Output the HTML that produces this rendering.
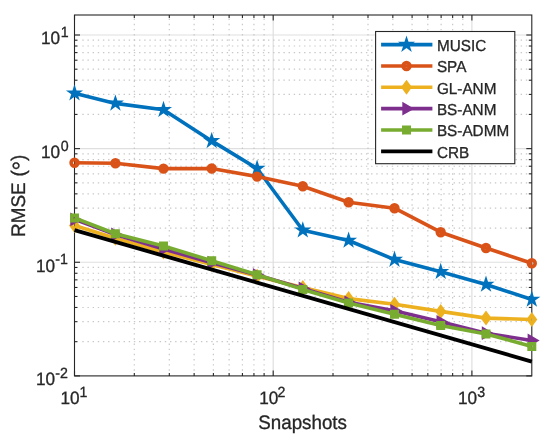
<!DOCTYPE html>
<html><head><meta charset="utf-8"><title>RMSE vs Snapshots</title>
<style>html,body{margin:0;padding:0;background:#fff}body{width:550px;height:438px;overflow:hidden}svg{display:block}text{font-family:"Liberation Sans",sans-serif;fill:#262626;stroke:#262626;stroke-width:0.3px;text-rendering:geometricPrecision}</style></head><body>
<svg width="550" height="438" viewBox="0 0 550 438">
<rect width="550" height="438" fill="#fff"/>
<g stroke="#dfdfdf" stroke-width="1.2" fill="none">
<line x1="273.20" y1="15.00" x2="273.20" y2="375.90"/>
<line x1="471.90" y1="15.00" x2="471.90" y2="375.90"/>
<line x1="74.50" y1="35.00" x2="531.80" y2="35.00"/>
<line x1="74.50" y1="148.63" x2="531.80" y2="148.63"/>
<line x1="74.50" y1="262.26" x2="531.80" y2="262.26"/>
</g>
<g stroke="#c8c8c8" stroke-width="1.2" stroke-dasharray="1.4 3.757" fill="none">
<line x1="134.31" y1="370.70" x2="134.31" y2="15.00"/>
<line x1="169.30" y1="370.70" x2="169.30" y2="15.00"/>
<line x1="194.13" y1="370.70" x2="194.13" y2="15.00"/>
<line x1="213.39" y1="370.70" x2="213.39" y2="15.00"/>
<line x1="229.12" y1="370.70" x2="229.12" y2="15.00"/>
<line x1="242.42" y1="370.70" x2="242.42" y2="15.00"/>
<line x1="253.94" y1="370.70" x2="253.94" y2="15.00"/>
<line x1="264.11" y1="370.70" x2="264.11" y2="15.00"/>
<line x1="333.01" y1="370.70" x2="333.01" y2="15.00"/>
<line x1="368.00" y1="370.70" x2="368.00" y2="15.00"/>
<line x1="392.83" y1="370.70" x2="392.83" y2="15.00"/>
<line x1="412.09" y1="370.70" x2="412.09" y2="15.00"/>
<line x1="427.82" y1="370.70" x2="427.82" y2="15.00"/>
<line x1="441.12" y1="370.70" x2="441.12" y2="15.00"/>
<line x1="452.64" y1="370.70" x2="452.64" y2="15.00"/>
<line x1="462.81" y1="370.70" x2="462.81" y2="15.00"/>
<line x1="82.30" y1="341.68" x2="531.80" y2="341.68"/>
<line x1="82.30" y1="321.67" x2="531.80" y2="321.67"/>
<line x1="82.30" y1="307.48" x2="531.80" y2="307.48"/>
<line x1="82.30" y1="296.47" x2="531.80" y2="296.47"/>
<line x1="82.30" y1="287.47" x2="531.80" y2="287.47"/>
<line x1="82.30" y1="279.86" x2="531.80" y2="279.86"/>
<line x1="82.30" y1="273.27" x2="531.80" y2="273.27"/>
<line x1="82.30" y1="267.46" x2="531.80" y2="267.46"/>
<line x1="82.30" y1="228.05" x2="531.80" y2="228.05"/>
<line x1="82.30" y1="208.04" x2="531.80" y2="208.04"/>
<line x1="82.30" y1="193.85" x2="531.80" y2="193.85"/>
<line x1="82.30" y1="182.84" x2="531.80" y2="182.84"/>
<line x1="82.30" y1="173.84" x2="531.80" y2="173.84"/>
<line x1="82.30" y1="166.23" x2="531.80" y2="166.23"/>
<line x1="82.30" y1="159.64" x2="531.80" y2="159.64"/>
<line x1="82.30" y1="153.83" x2="531.80" y2="153.83"/>
<line x1="82.30" y1="114.42" x2="531.80" y2="114.42"/>
<line x1="82.30" y1="94.41" x2="531.80" y2="94.41"/>
<line x1="82.30" y1="80.22" x2="531.80" y2="80.22"/>
<line x1="82.30" y1="69.21" x2="531.80" y2="69.21"/>
<line x1="82.30" y1="60.21" x2="531.80" y2="60.21"/>
<line x1="82.30" y1="52.60" x2="531.80" y2="52.60"/>
<line x1="82.30" y1="46.01" x2="531.80" y2="46.01"/>
<line x1="82.30" y1="40.20" x2="531.80" y2="40.20"/>
</g>
<g stroke="#262626" stroke-width="1.1" fill="none">
<rect x="74.50" y="15.00" width="457.30" height="360.90"/>
<line x1="74.50" y1="375.90" x2="74.50" y2="370.40"/>
<line x1="74.50" y1="15.00" x2="74.50" y2="20.50"/>
<line x1="273.20" y1="375.90" x2="273.20" y2="370.40"/>
<line x1="273.20" y1="15.00" x2="273.20" y2="20.50"/>
<line x1="471.90" y1="375.90" x2="471.90" y2="370.40"/>
<line x1="471.90" y1="15.00" x2="471.90" y2="20.50"/>
<line x1="134.31" y1="375.90" x2="134.31" y2="372.90"/>
<line x1="134.31" y1="15.00" x2="134.31" y2="18.00"/>
<line x1="169.30" y1="375.90" x2="169.30" y2="372.90"/>
<line x1="169.30" y1="15.00" x2="169.30" y2="18.00"/>
<line x1="194.13" y1="375.90" x2="194.13" y2="372.90"/>
<line x1="194.13" y1="15.00" x2="194.13" y2="18.00"/>
<line x1="213.39" y1="375.90" x2="213.39" y2="372.90"/>
<line x1="213.39" y1="15.00" x2="213.39" y2="18.00"/>
<line x1="229.12" y1="375.90" x2="229.12" y2="372.90"/>
<line x1="229.12" y1="15.00" x2="229.12" y2="18.00"/>
<line x1="242.42" y1="375.90" x2="242.42" y2="372.90"/>
<line x1="242.42" y1="15.00" x2="242.42" y2="18.00"/>
<line x1="253.94" y1="375.90" x2="253.94" y2="372.90"/>
<line x1="253.94" y1="15.00" x2="253.94" y2="18.00"/>
<line x1="264.11" y1="375.90" x2="264.11" y2="372.90"/>
<line x1="264.11" y1="15.00" x2="264.11" y2="18.00"/>
<line x1="333.01" y1="375.90" x2="333.01" y2="372.90"/>
<line x1="333.01" y1="15.00" x2="333.01" y2="18.00"/>
<line x1="368.00" y1="375.90" x2="368.00" y2="372.90"/>
<line x1="368.00" y1="15.00" x2="368.00" y2="18.00"/>
<line x1="392.83" y1="375.90" x2="392.83" y2="372.90"/>
<line x1="392.83" y1="15.00" x2="392.83" y2="18.00"/>
<line x1="412.09" y1="375.90" x2="412.09" y2="372.90"/>
<line x1="412.09" y1="15.00" x2="412.09" y2="18.00"/>
<line x1="427.82" y1="375.90" x2="427.82" y2="372.90"/>
<line x1="427.82" y1="15.00" x2="427.82" y2="18.00"/>
<line x1="441.12" y1="375.90" x2="441.12" y2="372.90"/>
<line x1="441.12" y1="15.00" x2="441.12" y2="18.00"/>
<line x1="452.64" y1="375.90" x2="452.64" y2="372.90"/>
<line x1="452.64" y1="15.00" x2="452.64" y2="18.00"/>
<line x1="462.81" y1="375.90" x2="462.81" y2="372.90"/>
<line x1="462.81" y1="15.00" x2="462.81" y2="18.00"/>
<line x1="74.50" y1="35.00" x2="80.00" y2="35.00"/>
<line x1="531.80" y1="35.00" x2="526.30" y2="35.00"/>
<line x1="74.50" y1="148.63" x2="80.00" y2="148.63"/>
<line x1="531.80" y1="148.63" x2="526.30" y2="148.63"/>
<line x1="74.50" y1="262.26" x2="80.00" y2="262.26"/>
<line x1="531.80" y1="262.26" x2="526.30" y2="262.26"/>
<line x1="74.50" y1="375.89" x2="80.00" y2="375.89"/>
<line x1="531.80" y1="375.89" x2="526.30" y2="375.89"/>
<line x1="74.50" y1="341.68" x2="77.50" y2="341.68"/>
<line x1="531.80" y1="341.68" x2="528.80" y2="341.68"/>
<line x1="74.50" y1="321.67" x2="77.50" y2="321.67"/>
<line x1="531.80" y1="321.67" x2="528.80" y2="321.67"/>
<line x1="74.50" y1="307.48" x2="77.50" y2="307.48"/>
<line x1="531.80" y1="307.48" x2="528.80" y2="307.48"/>
<line x1="74.50" y1="296.47" x2="77.50" y2="296.47"/>
<line x1="531.80" y1="296.47" x2="528.80" y2="296.47"/>
<line x1="74.50" y1="287.47" x2="77.50" y2="287.47"/>
<line x1="531.80" y1="287.47" x2="528.80" y2="287.47"/>
<line x1="74.50" y1="279.86" x2="77.50" y2="279.86"/>
<line x1="531.80" y1="279.86" x2="528.80" y2="279.86"/>
<line x1="74.50" y1="273.27" x2="77.50" y2="273.27"/>
<line x1="531.80" y1="273.27" x2="528.80" y2="273.27"/>
<line x1="74.50" y1="267.46" x2="77.50" y2="267.46"/>
<line x1="531.80" y1="267.46" x2="528.80" y2="267.46"/>
<line x1="74.50" y1="228.05" x2="77.50" y2="228.05"/>
<line x1="531.80" y1="228.05" x2="528.80" y2="228.05"/>
<line x1="74.50" y1="208.04" x2="77.50" y2="208.04"/>
<line x1="531.80" y1="208.04" x2="528.80" y2="208.04"/>
<line x1="74.50" y1="193.85" x2="77.50" y2="193.85"/>
<line x1="531.80" y1="193.85" x2="528.80" y2="193.85"/>
<line x1="74.50" y1="182.84" x2="77.50" y2="182.84"/>
<line x1="531.80" y1="182.84" x2="528.80" y2="182.84"/>
<line x1="74.50" y1="173.84" x2="77.50" y2="173.84"/>
<line x1="531.80" y1="173.84" x2="528.80" y2="173.84"/>
<line x1="74.50" y1="166.23" x2="77.50" y2="166.23"/>
<line x1="531.80" y1="166.23" x2="528.80" y2="166.23"/>
<line x1="74.50" y1="159.64" x2="77.50" y2="159.64"/>
<line x1="531.80" y1="159.64" x2="528.80" y2="159.64"/>
<line x1="74.50" y1="153.83" x2="77.50" y2="153.83"/>
<line x1="531.80" y1="153.83" x2="528.80" y2="153.83"/>
<line x1="74.50" y1="114.42" x2="77.50" y2="114.42"/>
<line x1="531.80" y1="114.42" x2="528.80" y2="114.42"/>
<line x1="74.50" y1="94.41" x2="77.50" y2="94.41"/>
<line x1="531.80" y1="94.41" x2="528.80" y2="94.41"/>
<line x1="74.50" y1="80.22" x2="77.50" y2="80.22"/>
<line x1="531.80" y1="80.22" x2="528.80" y2="80.22"/>
<line x1="74.50" y1="69.21" x2="77.50" y2="69.21"/>
<line x1="531.80" y1="69.21" x2="528.80" y2="69.21"/>
<line x1="74.50" y1="60.21" x2="77.50" y2="60.21"/>
<line x1="531.80" y1="60.21" x2="528.80" y2="60.21"/>
<line x1="74.50" y1="52.60" x2="77.50" y2="52.60"/>
<line x1="531.80" y1="52.60" x2="528.80" y2="52.60"/>
<line x1="74.50" y1="46.01" x2="77.50" y2="46.01"/>
<line x1="531.80" y1="46.01" x2="528.80" y2="46.01"/>
<line x1="74.50" y1="40.20" x2="77.50" y2="40.20"/>
<line x1="531.80" y1="40.20" x2="528.80" y2="40.20"/>
</g>
<polyline points="74.50,93.20 115.40,103.40 163.50,109.80 211.70,140.90 257.10,168.50 302.80,230.30 348.60,240.50 394.50,259.60 440.70,271.80 486.00,284.50 531.80,299.50" fill="none" stroke="#0072BD" stroke-width="3.60" stroke-linejoin="round"/>
<g fill="#0072BD" stroke="none">
<polygon points="74.50,84.20 76.52,90.42 83.06,90.42 77.77,94.26 79.79,100.48 74.50,96.64 69.21,100.48 71.23,94.26 65.94,90.42 72.48,90.42"/>
<polygon points="115.40,94.40 117.42,100.62 123.96,100.62 118.67,104.46 120.69,110.68 115.40,106.84 110.11,110.68 112.13,104.46 106.84,100.62 113.38,100.62"/>
<polygon points="163.50,100.80 165.52,107.02 172.06,107.02 166.77,110.86 168.79,117.08 163.50,113.24 158.21,117.08 160.23,110.86 154.94,107.02 161.48,107.02"/>
<polygon points="211.70,131.90 213.72,138.12 220.26,138.12 214.97,141.96 216.99,148.18 211.70,144.34 206.41,148.18 208.43,141.96 203.14,138.12 209.68,138.12"/>
<polygon points="257.10,159.50 259.12,165.72 265.66,165.72 260.37,169.56 262.39,175.78 257.10,171.94 251.81,175.78 253.83,169.56 248.54,165.72 255.08,165.72"/>
<polygon points="302.80,221.30 304.82,227.52 311.36,227.52 306.07,231.36 308.09,237.58 302.80,233.74 297.51,237.58 299.53,231.36 294.24,227.52 300.78,227.52"/>
<polygon points="348.60,231.50 350.62,237.72 357.16,237.72 351.87,241.56 353.89,247.78 348.60,243.94 343.31,247.78 345.33,241.56 340.04,237.72 346.58,237.72"/>
<polygon points="394.50,250.60 396.52,256.82 403.06,256.82 397.77,260.66 399.79,266.88 394.50,263.04 389.21,266.88 391.23,260.66 385.94,256.82 392.48,256.82"/>
<polygon points="440.70,262.80 442.72,269.02 449.26,269.02 443.97,272.86 445.99,279.08 440.70,275.24 435.41,279.08 437.43,272.86 432.14,269.02 438.68,269.02"/>
<polygon points="486.00,275.50 488.02,281.72 494.56,281.72 489.27,285.56 491.29,291.78 486.00,287.94 480.71,291.78 482.73,285.56 477.44,281.72 483.98,281.72"/>
<polygon points="531.80,290.50 533.82,296.72 540.36,296.72 535.07,300.56 537.09,306.78 531.80,302.94 526.51,306.78 528.53,300.56 523.24,296.72 529.78,296.72"/>
</g>
<polyline points="74.50,162.70 115.40,163.20 163.50,168.60 211.70,168.50 257.10,176.60 302.80,186.30 348.60,202.20 394.50,208.20 440.70,232.20 486.00,248.00 531.80,263.30" fill="none" stroke="#D95319" stroke-width="3.60" stroke-linejoin="round"/>
<g fill="#D95319" stroke="none">
<path fill-rule="evenodd" d="M69.30,162.70 a5.20,5.20 0 1,0 10.40,0 a5.20,5.20 0 1,0 -10.40,0z M73.00,162.70 a1.50,1.50 0 1,0 3.00,0 a1.50,1.50 0 1,0 -3.00,0z"/>
<path fill-rule="evenodd" d="M110.20,163.20 a5.20,5.20 0 1,0 10.40,0 a5.20,5.20 0 1,0 -10.40,0z M113.90,163.20 a1.50,1.50 0 1,0 3.00,0 a1.50,1.50 0 1,0 -3.00,0z"/>
<path fill-rule="evenodd" d="M158.30,168.60 a5.20,5.20 0 1,0 10.40,0 a5.20,5.20 0 1,0 -10.40,0z M162.00,168.60 a1.50,1.50 0 1,0 3.00,0 a1.50,1.50 0 1,0 -3.00,0z"/>
<path fill-rule="evenodd" d="M206.50,168.50 a5.20,5.20 0 1,0 10.40,0 a5.20,5.20 0 1,0 -10.40,0z M210.20,168.50 a1.50,1.50 0 1,0 3.00,0 a1.50,1.50 0 1,0 -3.00,0z"/>
<path fill-rule="evenodd" d="M251.90,176.60 a5.20,5.20 0 1,0 10.40,0 a5.20,5.20 0 1,0 -10.40,0z M255.60,176.60 a1.50,1.50 0 1,0 3.00,0 a1.50,1.50 0 1,0 -3.00,0z"/>
<path fill-rule="evenodd" d="M297.60,186.30 a5.20,5.20 0 1,0 10.40,0 a5.20,5.20 0 1,0 -10.40,0z M301.30,186.30 a1.50,1.50 0 1,0 3.00,0 a1.50,1.50 0 1,0 -3.00,0z"/>
<path fill-rule="evenodd" d="M343.40,202.20 a5.20,5.20 0 1,0 10.40,0 a5.20,5.20 0 1,0 -10.40,0z M347.10,202.20 a1.50,1.50 0 1,0 3.00,0 a1.50,1.50 0 1,0 -3.00,0z"/>
<path fill-rule="evenodd" d="M389.30,208.20 a5.20,5.20 0 1,0 10.40,0 a5.20,5.20 0 1,0 -10.40,0z M393.00,208.20 a1.50,1.50 0 1,0 3.00,0 a1.50,1.50 0 1,0 -3.00,0z"/>
<path fill-rule="evenodd" d="M435.50,232.20 a5.20,5.20 0 1,0 10.40,0 a5.20,5.20 0 1,0 -10.40,0z M439.20,232.20 a1.50,1.50 0 1,0 3.00,0 a1.50,1.50 0 1,0 -3.00,0z"/>
<path fill-rule="evenodd" d="M480.80,248.00 a5.20,5.20 0 1,0 10.40,0 a5.20,5.20 0 1,0 -10.40,0z M484.50,248.00 a1.50,1.50 0 1,0 3.00,0 a1.50,1.50 0 1,0 -3.00,0z"/>
<path fill-rule="evenodd" d="M526.60,263.30 a5.20,5.20 0 1,0 10.40,0 a5.20,5.20 0 1,0 -10.40,0z M530.30,263.30 a1.50,1.50 0 1,0 3.00,0 a1.50,1.50 0 1,0 -3.00,0z"/>
</g>
<polyline points="74.50,225.50 115.40,238.30 163.50,252.00 211.70,264.50 257.10,276.20 302.80,287.60 348.60,298.60 394.50,304.30 440.70,311.40 486.00,318.10 531.80,319.50" fill="none" stroke="#EDB120" stroke-width="3.60" stroke-linejoin="round"/>
<g fill="#EDB120" stroke="none">
<path fill-rule="evenodd" d="M74.50,218.00 L80.00,225.50 L74.50,233.00 L69.00,225.50 z M74.50,224.07 L75.55,225.50 L74.50,226.93 L73.45,225.50 z"/>
<path fill-rule="evenodd" d="M115.40,230.80 L120.90,238.30 L115.40,245.80 L109.90,238.30 z M115.40,236.88 L116.45,238.30 L115.40,239.73 L114.36,238.30 z"/>
<path fill-rule="evenodd" d="M163.50,244.50 L169.00,252.00 L163.50,259.50 L158.00,252.00 z M163.50,250.57 L164.54,252.00 L163.50,253.43 L162.46,252.00 z"/>
<path fill-rule="evenodd" d="M211.70,257.00 L217.20,264.50 L211.70,272.00 L206.20,264.50 z M211.70,263.07 L212.74,264.50 L211.70,265.93 L210.66,264.50 z"/>
<path fill-rule="evenodd" d="M257.10,268.70 L262.60,276.20 L257.10,283.70 L251.60,276.20 z M257.10,274.77 L258.15,276.20 L257.10,277.62 L256.06,276.20 z"/>
<path fill-rule="evenodd" d="M302.80,280.10 L308.30,287.60 L302.80,295.10 L297.30,287.60 z M302.80,286.18 L303.85,287.60 L302.80,289.03 L301.75,287.60 z"/>
<path fill-rule="evenodd" d="M348.60,291.10 L354.10,298.60 L348.60,306.10 L343.10,298.60 z M348.60,297.18 L349.65,298.60 L348.60,300.03 L347.56,298.60 z"/>
<path fill-rule="evenodd" d="M394.50,296.80 L400.00,304.30 L394.50,311.80 L389.00,304.30 z M394.50,302.88 L395.55,304.30 L394.50,305.73 L393.45,304.30 z"/>
<path fill-rule="evenodd" d="M440.70,303.90 L446.20,311.40 L440.70,318.90 L435.20,311.40 z M440.70,309.97 L441.75,311.40 L440.70,312.82 L439.65,311.40 z"/>
<path fill-rule="evenodd" d="M486.00,310.60 L491.50,318.10 L486.00,325.60 L480.50,318.10 z M486.00,316.68 L487.05,318.10 L486.00,319.53 L484.95,318.10 z"/>
<path fill-rule="evenodd" d="M531.80,312.00 L537.30,319.50 L531.80,327.00 L526.30,319.50 z M531.80,318.07 L532.84,319.50 L531.80,320.93 L530.75,319.50 z"/>
</g>
<polyline points="74.50,219.40 115.40,234.50 163.50,249.00 211.70,262.70 257.10,275.00 302.80,288.50 348.60,302.30 394.50,310.80 440.70,321.80 486.00,333.20 531.80,340.50" fill="none" stroke="#7E2F8E" stroke-width="3.60" stroke-linejoin="round"/>
<g fill="#7E2F8E" stroke="none">
<polygon points="70.30,212.50 82.30,219.40 70.30,226.30"/>
<polygon points="111.20,227.60 123.20,234.50 111.20,241.40"/>
<polygon points="159.30,242.10 171.30,249.00 159.30,255.90"/>
<polygon points="207.50,255.80 219.50,262.70 207.50,269.60"/>
<polygon points="252.90,268.10 264.90,275.00 252.90,281.90"/>
<polygon points="298.60,281.60 310.60,288.50 298.60,295.40"/>
<polygon points="344.40,295.40 356.40,302.30 344.40,309.20"/>
<polygon points="390.30,303.90 402.30,310.80 390.30,317.70"/>
<polygon points="436.50,314.90 448.50,321.80 436.50,328.70"/>
<polygon points="481.80,326.30 493.80,333.20 481.80,340.10"/>
<polygon points="527.60,333.60 539.60,340.50 527.60,347.40"/>
</g>
<polyline points="74.50,217.90 115.40,233.70 163.50,246.00 211.70,260.70 257.10,274.70 302.80,289.40 348.60,302.90 394.50,314.30 440.70,325.60 486.00,333.90 531.80,346.40" fill="none" stroke="#77AC30" stroke-width="3.60" stroke-linejoin="round"/>
<g fill="#77AC30" stroke="none">
<path fill-rule="evenodd" d="M70.00,213.40 h9.00 v9.00 h-9.00 z M73.70,217.10 h1.60 v1.60 h-1.60 z"/>
<path fill-rule="evenodd" d="M110.90,229.20 h9.00 v9.00 h-9.00 z M114.60,232.90 h1.60 v1.60 h-1.60 z"/>
<path fill-rule="evenodd" d="M159.00,241.50 h9.00 v9.00 h-9.00 z M162.70,245.20 h1.60 v1.60 h-1.60 z"/>
<path fill-rule="evenodd" d="M207.20,256.20 h9.00 v9.00 h-9.00 z M210.90,259.90 h1.60 v1.60 h-1.60 z"/>
<path fill-rule="evenodd" d="M252.60,270.20 h9.00 v9.00 h-9.00 z M256.30,273.90 h1.60 v1.60 h-1.60 z"/>
<path fill-rule="evenodd" d="M298.30,284.90 h9.00 v9.00 h-9.00 z M302.00,288.60 h1.60 v1.60 h-1.60 z"/>
<path fill-rule="evenodd" d="M344.10,298.40 h9.00 v9.00 h-9.00 z M347.80,302.10 h1.60 v1.60 h-1.60 z"/>
<path fill-rule="evenodd" d="M390.00,309.80 h9.00 v9.00 h-9.00 z M393.70,313.50 h1.60 v1.60 h-1.60 z"/>
<path fill-rule="evenodd" d="M436.20,321.10 h9.00 v9.00 h-9.00 z M439.90,324.80 h1.60 v1.60 h-1.60 z"/>
<path fill-rule="evenodd" d="M481.50,329.40 h9.00 v9.00 h-9.00 z M485.20,333.10 h1.60 v1.60 h-1.60 z"/>
<path fill-rule="evenodd" d="M527.30,341.90 h9.00 v9.00 h-9.00 z M531.00,345.60 h1.60 v1.60 h-1.60 z"/>
</g>
<line x1="74.50" y1="230.10" x2="531.80" y2="361.60" stroke="#000" stroke-width="3.9"/>
<text transform="translate(79.60,404.3) scale(1,1.04)" font-size="17.2" text-anchor="end">10</text>
<text transform="translate(79.50,396.6) scale(1,1.04)" font-size="14.2">1</text>
<text transform="translate(278.30,404.3) scale(1,1.04)" font-size="17.2" text-anchor="end">10</text>
<text transform="translate(277.50,396.6) scale(1,1.04)" font-size="14.2">2</text>
<text transform="translate(477.00,404.3) scale(1,1.04)" font-size="17.2" text-anchor="end">10</text>
<text transform="translate(477.20,396.6) scale(1,1.04)" font-size="14.2">3</text>
<text transform="translate(60.10,44.30) scale(1,1.04)" font-size="17.2" text-anchor="end">10</text>
<text transform="translate(60.70,36.90) scale(1,1.04)" font-size="14.2">1</text>
<text transform="translate(60.10,157.93) scale(1,1.04)" font-size="17.2" text-anchor="end">10</text>
<text transform="translate(60.70,150.53) scale(1,1.04)" font-size="14.2">0</text>
<text transform="translate(55.08,271.56) scale(1,1.04)" font-size="17.2" text-anchor="end">10</text>
<text transform="translate(55.28,264.16) scale(1,1.04)" font-size="14.2">-1</text>
<text transform="translate(55.08,385.19) scale(1,1.04)" font-size="17.2" text-anchor="end">10</text>
<text transform="translate(55.28,377.79) scale(1,1.04)" font-size="14.2">-2</text>
<text transform="translate(302.6,428.9) scale(1,1.04)" font-size="18.8" text-anchor="middle">Snapshots</text>
<text transform="translate(25.3,237.0) rotate(-90) scale(1,1.04)" font-size="18.9">RMSE <tspan dx="0.6">(</tspan><tspan dx="-0.1" dy="4.6" font-size="24">°</tspan><tspan dx="-0.2" dy="-4.6">)</tspan></text>
<rect x="375.60" y="31.50" width="139.20" height="132.20" fill="#fff" stroke="#262626" stroke-width="1.1"/>
<line x1="381.1" y1="44.60" x2="432.4" y2="44.60" stroke="#0072BD" stroke-width="3.60"/>
<g fill="#0072BD"><polygon points="406.50,35.60 408.52,41.82 415.06,41.82 409.77,45.66 411.79,51.88 406.50,48.04 401.21,51.88 403.23,45.66 397.94,41.82 404.48,41.82"/></g>
<text transform="translate(436.9,50.90) scale(1,1.04)" font-size="15.3" fill="#000" stroke="#000" stroke-width="0.4">MUSIC</text>
<line x1="381.1" y1="65.95" x2="432.4" y2="65.95" stroke="#D95319" stroke-width="3.60"/>
<g fill="#D95319"><path fill-rule="evenodd" d="M401.30,65.95 a5.20,5.20 0 1,0 10.40,0 a5.20,5.20 0 1,0 -10.40,0z M405.00,65.95 a1.50,1.50 0 1,0 3.00,0 a1.50,1.50 0 1,0 -3.00,0z"/></g>
<text transform="translate(436.9,72.25) scale(1,1.04)" font-size="15.3" fill="#000" stroke="#000" stroke-width="0.4">SPA</text>
<line x1="381.1" y1="87.30" x2="432.4" y2="87.30" stroke="#EDB120" stroke-width="3.60"/>
<g fill="#EDB120"><path fill-rule="evenodd" d="M406.50,79.80 L412.00,87.30 L406.50,94.80 L401.00,87.30 z M406.50,85.88 L407.55,87.30 L406.50,88.73 L405.45,87.30 z"/></g>
<text transform="translate(436.9,93.60) scale(1,1.04)" font-size="15.3" fill="#000" stroke="#000" stroke-width="0.4">GL-ANM</text>
<line x1="381.1" y1="108.65" x2="432.4" y2="108.65" stroke="#7E2F8E" stroke-width="3.60"/>
<g fill="#7E2F8E"><polygon points="402.30,101.75 414.30,108.65 402.30,115.55"/></g>
<text transform="translate(436.9,114.95) scale(1,1.04)" font-size="15.3" fill="#000" stroke="#000" stroke-width="0.4">BS-ANM</text>
<line x1="381.1" y1="130.00" x2="432.4" y2="130.00" stroke="#77AC30" stroke-width="3.60"/>
<g fill="#77AC30"><path fill-rule="evenodd" d="M402.00,125.50 h9.00 v9.00 h-9.00 z M405.70,129.20 h1.60 v1.60 h-1.60 z"/></g>
<text transform="translate(436.9,136.30) scale(1,1.04)" font-size="15.3" fill="#000" stroke="#000" stroke-width="0.4">BS-ADMM</text>
<line x1="381.1" y1="151.35" x2="432.4" y2="151.35" stroke="#000" stroke-width="3.90"/>
<text transform="translate(436.9,157.65) scale(1,1.04)" font-size="15.3" fill="#000" stroke="#000" stroke-width="0.4">CRB</text>
</svg></body></html>
